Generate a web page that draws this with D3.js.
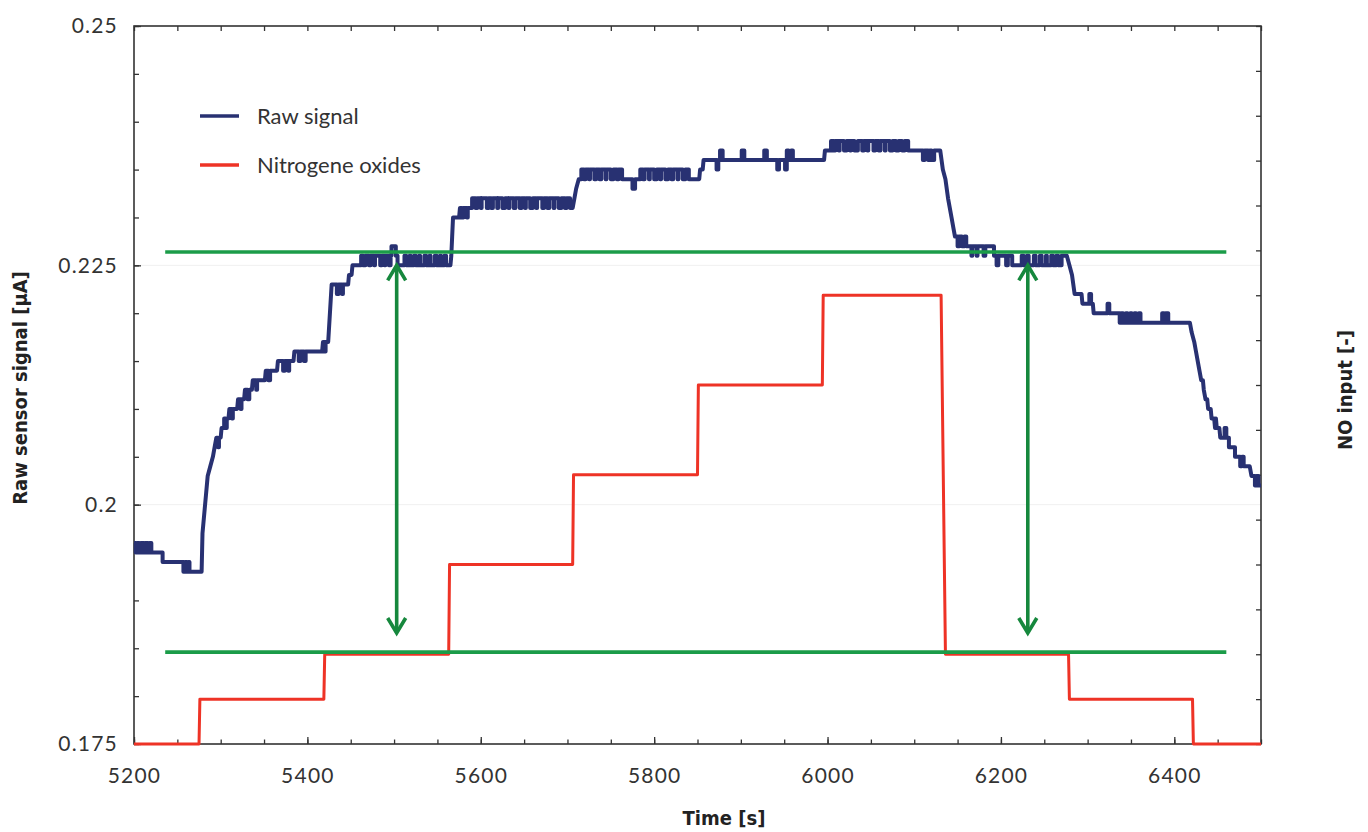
<!DOCTYPE html>
<html>
    <head>
        <meta charset="utf-8">
        <title>Raw sensor signal and NO input</title>
        <style>
            body {
                margin: 0;
                background: #fff;
            }
            text {
                font-family: 'Lato', sans-serif;
                fill: #333;
            }
            .tick text {
                font-size: 21px;
                letter-spacing: 1.2px;
            }
            .legend text {
                font-size: 22px;
            }
            .title {
                font-family: 'Liberation Sans Narrow', 'DejaVu Sans Condensed', sans-serif;
                font-stretch: condensed;
                font-weight: bold;
                font-size: 20px;
                fill: #222;
            }
            .tick line {
                stroke: #333;
                stroke-width: 1.3;
            }
        </style>
        <script src="https://d3js.org/d3.v7.min.js"></script>
    </head>
    <body>
        <div id="chart"></div>
        <script>
            // axis ticks
            var timeTicks = [5200, 5400, 5600, 5800, 6000, 6200, 6400];
            var signalTicks = [0.175, 0.2, 0.225, 0.25];

            // raw sensor signal [time s, current µA]
            var rawSignal = [
                [5200,0.196],[5202,0.196],[5202,0.195],[5204,0.195],[5204,0.196],[5206,0.196],[5206,0.195],[5208,0.195],
                [5208,0.196],[5211,0.196],[5211,0.195],[5213,0.195],[5213,0.196],[5216,0.196],[5216,0.195],[5218,0.195],
                [5218,0.196],[5220,0.196],[5220,0.195],[5233,0.195],[5233,0.194],[5257,0.194],[5257,0.193],[5259,0.193],
                [5259,0.194],[5261,0.194],[5261,0.193],[5263,0.193],[5263,0.194],[5264,0.194],[5264,0.193],[5278,0.193],
                [5279,0.197],[5283,0.201],[5285,0.203],[5288,0.204],[5291,0.205],[5293,0.206],[5295,0.207],[5297,0.207],
                [5297,0.206],[5298,0.206],[5298,0.207],[5300,0.207],[5301,0.208],[5304,0.208],[5304,0.209],[5306,0.209],
                [5306,0.208],[5307,0.208],[5307,0.209],[5309,0.209],[5310,0.210],[5313,0.210],[5313,0.209],[5314,0.209],
                [5314,0.210],[5319,0.210],[5320,0.211],[5323,0.211],[5323,0.210],[5324,0.210],[5324,0.211],[5327,0.211],
                [5328,0.212],[5331,0.212],[5331,0.211],[5333,0.211],[5333,0.212],[5336,0.212],[5337,0.213],[5341,0.213],
                [5341,0.212],[5342,0.212],[5342,0.213],[5351,0.213],[5352,0.214],[5355,0.214],[5355,0.213],[5357,0.213],
                [5357,0.214],[5365,0.214],[5366,0.215],[5372,0.215],[5372,0.214],[5374,0.214],[5374,0.215],[5378,0.215],
                [5378,0.214],[5379,0.214],[5379,0.215],[5384,0.215],[5385,0.216],[5390,0.216],[5390,0.215],[5392,0.215],
                [5392,0.216],[5396,0.216],[5396,0.215],[5398,0.215],[5398,0.216],[5417,0.216],[5418,0.217],[5420,0.217],
                [5420,0.216],[5421,0.216],[5421,0.217],[5424,0.217],[5426,0.220],[5428,0.223],[5434,0.223],[5434,0.222],
                [5436,0.222],[5436,0.223],[5440,0.223],[5440,0.222],[5441,0.222],[5441,0.223],[5447,0.223],[5448,0.224],
                [5451,0.224],[5452,0.225],[5462,0.225],[5462,0.226],[5464,0.226],[5464,0.225],[5467,0.225],[5467,0.226],
                [5471,0.226],[5471,0.225],[5473,0.225],[5473,0.226],[5477,0.226],[5477,0.225],[5478,0.225],[5478,0.226],
                [5484,0.226],[5484,0.225],[5486,0.225],[5486,0.226],[5489,0.226],[5489,0.225],[5490,0.225],[5490,0.226],
                [5494,0.226],[5494,0.225],[5496,0.225],[5496,0.226],[5497,0.226],[5497,0.227],[5502,0.227],[5502,0.226],
                [5504,0.226],[5504,0.225],[5512,0.225],[5512,0.226],[5514,0.226],[5514,0.225],[5518,0.225],[5518,0.226],
                [5519,0.226],[5519,0.225],[5523,0.225],[5523,0.226],[5525,0.226],[5525,0.225],[5529,0.225],[5529,0.226],
                [5530,0.226],[5530,0.225],[5535,0.225],[5535,0.226],[5537,0.226],[5537,0.225],[5541,0.225],[5541,0.226],
                [5542,0.226],[5542,0.225],[5547,0.225],[5547,0.226],[5549,0.226],[5549,0.225],[5553,0.225],[5553,0.226],
                [5554,0.226],[5554,0.225],[5558,0.225],[5558,0.226],[5560,0.226],[5560,0.225],[5565,0.225],
                [5566,0.226],[5567,0.228],[5568,0.230],[5575,0.230],[5576,0.231],[5578,0.231],[5578,0.230],[5580,0.230],
                [5580,0.231],[5584,0.231],[5584,0.230],[5585,0.230],[5585,0.231],[5590,0.231],[5590,0.232],[5594,0.232],
                [5594,0.231],[5596,0.231],[5596,0.232],[5600,0.232],[5600,0.231],[5601,0.231],[5601,0.232],[5607,0.232],
                [5607,0.231],[5609,0.231],[5609,0.232],[5612,0.232],[5612,0.231],[5614,0.231],[5614,0.232],[5619,0.232],
                [5619,0.231],[5620,0.231],[5620,0.232],[5625,0.232],[5625,0.231],[5628,0.231],[5628,0.232],[5632,0.232],
                [5632,0.231],[5633,0.231],[5633,0.232],[5638,0.232],[5638,0.231],[5640,0.231],[5640,0.232],[5645,0.232],
                [5645,0.231],[5647,0.231],[5647,0.232],[5651,0.232],[5651,0.231],[5652,0.231],[5652,0.232],[5657,0.232],
                [5657,0.231],[5660,0.231],[5660,0.232],[5664,0.232],[5664,0.231],[5665,0.231],[5665,0.232],[5671,0.232],
                [5671,0.231],[5673,0.231],[5673,0.232],[5677,0.232],[5677,0.231],[5679,0.231],[5679,0.232],[5684,0.232],
                [5684,0.231],[5685,0.231],[5685,0.232],[5690,0.232],[5690,0.231],[5693,0.231],[5693,0.232],[5697,0.232],
                [5697,0.231],[5699,0.231],[5699,0.232],[5703,0.232],[5703,0.231],[5706,0.231],
                [5708,0.232],[5710,0.233],[5713,0.234],[5716,0.234],[5716,0.235],[5719,0.235],[5719,0.234],[5721,0.234],
                [5721,0.235],[5725,0.235],[5725,0.234],[5726,0.234],[5726,0.235],[5731,0.235],[5731,0.234],[5733,0.234],
                [5733,0.235],[5737,0.235],[5737,0.234],[5739,0.234],[5739,0.235],[5744,0.235],[5744,0.234],[5745,0.234],
                [5745,0.235],[5750,0.235],[5750,0.234],[5753,0.234],[5753,0.235],[5757,0.235],[5757,0.234],[5759,0.234],
                [5759,0.235],[5763,0.235],[5763,0.234],[5775,0.234],[5775,0.233],[5778,0.233],[5778,0.234],[5784,0.234],
                [5784,0.235],[5787,0.235],[5787,0.234],[5789,0.234],[5789,0.235],[5794,0.235],[5794,0.234],[5795,0.234],
                [5795,0.235],[5800,0.235],[5800,0.234],[5803,0.234],[5803,0.235],[5807,0.235],[5807,0.234],[5808,0.234],
                [5808,0.235],[5813,0.235],[5813,0.234],[5816,0.234],[5816,0.235],[5820,0.235],[5820,0.234],[5822,0.234],
                [5822,0.235],[5827,0.235],[5827,0.234],[5828,0.234],[5828,0.235],[5833,0.235],[5833,0.234],[5836,0.234],
                [5836,0.235],[5840,0.235],[5840,0.234],[5852,0.234],[5853,0.235],[5856,0.235],[5857,0.236],[5872,0.236],
                [5872,0.235],[5874,0.235],[5874,0.236],[5876,0.236],[5876,0.237],[5879,0.237],[5879,0.236],[5901,0.236],
                [5901,0.237],[5904,0.237],[5904,0.236],[5927,0.236],[5927,0.237],[5930,0.237],[5930,0.236],[5942,0.236],
                [5942,0.235],[5944,0.235],[5944,0.236],[5951,0.236],[5951,0.235],[5953,0.235],[5953,0.237],[5955,0.237],
                [5955,0.236],[5958,0.236],[5958,0.237],[5960,0.237],[5960,0.236],[5996,0.236],[5997,0.237],[6004,0.237],
                [6004,0.238],[6007,0.238],[6007,0.237],[6009,0.237],[6009,0.238],[6013,0.238],[6013,0.237],[6014,0.237],
                [6014,0.238],[6019,0.238],[6019,0.237],[6022,0.237],[6022,0.238],[6026,0.238],[6026,0.237],[6027,0.237],
                [6027,0.238],[6031,0.238],[6031,0.237],[6035,0.237],[6035,0.238],[6040,0.238],[6040,0.237],[6042,0.237],
                [6042,0.238],[6046,0.238],[6046,0.237],[6047,0.237],[6047,0.238],[6053,0.238],[6053,0.237],[6055,0.237],
                [6055,0.238],[6059,0.238],[6059,0.237],[6061,0.237],[6061,0.238],[6066,0.238],[6066,0.237],[6067,0.237],
                [6067,0.238],[6072,0.238],[6072,0.237],[6075,0.237],[6075,0.238],[6079,0.238],[6079,0.237],[6082,0.237],
                [6082,0.238],[6086,0.238],[6086,0.237],[6089,0.237],[6089,0.238],[6093,0.238],[6093,0.237],[6110,0.237],
                [6110,0.236],[6112,0.236],[6112,0.237],[6116,0.237],[6116,0.236],[6118,0.236],[6118,0.237],[6120,0.237],
                [6120,0.236],[6123,0.236],[6123,0.237],[6130,0.237],
                [6133,0.235],[6136,0.234],[6139,0.232],[6141,0.231],[6143,0.230],[6145,0.229],[6147,0.228],[6150,0.228],
                [6150,0.227],[6152,0.227],[6152,0.228],[6155,0.228],[6155,0.227],[6158,0.227],[6158,0.228],[6160,0.228],
                [6160,0.227],[6166,0.227],[6166,0.226],[6167,0.226],[6167,0.227],[6172,0.227],[6172,0.226],[6173,0.226],
                [6173,0.227],[6180,0.227],[6180,0.226],[6182,0.226],[6182,0.227],[6192,0.227],[6192,0.226],[6195,0.226],
                [6195,0.225],[6197,0.225],[6197,0.226],[6206,0.226],[6206,0.225],[6208,0.225],[6208,0.226],[6213,0.226],
                [6213,0.225],[6224,0.225],[6224,0.226],[6226,0.226],[6226,0.225],[6230,0.225],[6230,0.226],[6232,0.226],
                [6232,0.225],[6238,0.225],[6238,0.226],[6240,0.226],[6240,0.225],[6245,0.225],[6245,0.226],[6247,0.226],
                [6247,0.225],[6252,0.225],[6252,0.226],[6253,0.226],[6253,0.225],[6258,0.225],[6258,0.226],[6260,0.226],
                [6260,0.225],[6264,0.225],[6264,0.226],[6266,0.226],[6266,0.225],[6270,0.225],[6270,0.226],[6276,0.226],
                [6279,0.225],[6282,0.224],[6285,0.222],[6293,0.222],[6294,0.221],[6302,0.221],[6302,0.222],[6304,0.222],
                [6304,0.221],[6306,0.221],[6307,0.220],[6323,0.220],[6323,0.221],[6325,0.221],[6325,0.220],[6337,0.220],
                [6337,0.219],[6339,0.219],[6339,0.220],[6341,0.220],[6341,0.219],[6344,0.219],[6344,0.220],[6346,0.220],
                [6346,0.219],[6349,0.219],[6349,0.220],[6351,0.220],[6351,0.219],[6354,0.219],[6354,0.220],[6356,0.220],
                [6356,0.219],[6359,0.219],[6359,0.220],[6361,0.220],[6361,0.219],[6386,0.219],[6386,0.220],[6388,0.220],
                [6388,0.219],[6390,0.219],[6390,0.220],[6393,0.220],[6393,0.219],[6418,0.219],
                [6420,0.218],[6423,0.217],[6425,0.216],[6427,0.215],[6429,0.214],[6431,0.213],[6433,0.213],[6434,0.212],
                [6436,0.211],[6438,0.211],[6439,0.210],[6442,0.210],[6443,0.209],[6446,0.209],[6447,0.208],[6448,0.209],
                [6449,0.208],[6452,0.208],[6453,0.207],[6458,0.207],[6458,0.208],[6460,0.208],[6460,0.207],[6463,0.207],
                [6463,0.206],[6470,0.206],[6470,0.205],[6476,0.205],[6476,0.204],[6478,0.204],[6478,0.205],[6480,0.205],
                [6480,0.204],[6487,0.204],[6489,0.203],[6493,0.203],[6493,0.202],[6495,0.202],[6495,0.203],[6497,0.203],
                [6497,0.202],[6500,0.202]
            ];

            // NO input (right axis, 0..16)
            var noTime  = [5200, 5275, 5276, 5419, 5420, 5563, 5564, 5706, 5707, 5850, 5851, 5994, 5995, 6131, 6136, 6278, 6279, 6421, 6422, 6500];
            var noLevel = [0, 0, 1, 1, 2, 2, 4, 4, 6, 6, 8, 8, 10, 10, 2, 2, 1, 1, 0, 0];

            // green marker lines and arrows
            var refTime = [5236, 6460];
            var refLevels = [0.2264, 0.1846];
            var arrowTimes = [5503, 6231];
            var arrowEnds = [0.225, 0.1866];

            var legendNames = ["Raw signal", "Nitrogene oxides"];
            var colors = {raw: "#283172", no: "#ee3326", green: "#1b9c49", arrow: "#16883d"};

            var W = 1368, H = 832;
            var padL = 134, padR = 1261, padT = 26, padB = 744;

            var svg = d3.select("#chart").append("svg")
                .attr("width", W)
                .attr("height", H);

            var x = d3.scaleLinear().domain([5200, 6500]).range([padL, padR]);
            var y = d3.scaleLinear().domain([0.175, 0.25]).range([padB, padT]);
            var yNO = d3.scaleLinear().domain([0, 16]).range([padB, padT]);

            // faint grid at labelled values
            svg.append("g").selectAll("line")
                .data([0.2, 0.225])
                .enter().append("line")
                .attr("x1", padL).attr("x2", padR)
                .attr("y1", d => y(d)).attr("y2", d => y(d))
                .attr("stroke", "#f0f0f0")
                .attr("stroke-width", 1);

            var minorTime = d3.range(5200, 6501, 50);
            var minorSig = d3.range(0, 16).map(i => 0.175 + i * 0.005);

            function clean(g) {
                g.select(".domain").remove();
            }

            // bottom axis
            svg.append("g").attr("transform", "translate(0," + padB + ")")
                .call(d3.axisBottom(x).tickValues(minorTime).tickSize(-4.5).tickFormat(""))
                .call(clean);
            svg.append("g").attr("transform", "translate(0," + padB + ")")
                .call(d3.axisBottom(x).tickValues(timeTicks).tickSize(-7).tickPadding(24).tickFormat(d3.format("d")))
                .call(clean);
            // top axis
            svg.append("g").attr("transform", "translate(0," + padT + ")")
                .call(d3.axisTop(x).tickValues(minorTime).tickSize(-5).tickFormat(""))
                .call(clean);
            // left axis
            svg.append("g").attr("transform", "translate(" + padL + ",0)")
                .call(d3.axisLeft(y).tickValues(minorSig).tickSize(-5).tickFormat(""))
                .call(clean);
            svg.append("g").attr("transform", "translate(" + padL + ",0)")
                .call(d3.axisLeft(y).tickValues(signalTicks).tickSize(-7).tickPadding(16).tickFormat(d => String(d)))
                .call(clean);
            // right axis (NO input, no labels)
            svg.append("g").attr("transform", "translate(" + padR + ",0)")
                .call(d3.axisRight(yNO).ticks(16).tickSize(-5).tickFormat(""))
                .call(clean);

            svg.selectAll(".tick text").attr("fill", "#333").style("font-family", "Lato, sans-serif");

            // frame
            svg.append("rect")
                .attr("x", padL).attr("y", padT)
                .attr("width", padR - padL).attr("height", padB - padT)
                .attr("fill", "none")
                .attr("stroke", "#333")
                .attr("stroke-width", 1.6);

            // raw signal
            var rawLine = d3.line().x(d => x(d[0])).y(d => y(d[1]));
            svg.append("path")
                .datum(rawSignal)
                .attr("d", rawLine)
                .attr("fill", "none")
                .attr("stroke", colors.raw)
                .attr("stroke-width", 4)
                .attr("stroke-linejoin", "round");

            // NO input
            var noData = noTime.map((t, i) => [t, noLevel[i]]);
            var noLine = d3.line().x(d => x(d[0])).y(d => yNO(d[1]));
            svg.append("path")
                .datum(noData)
                .attr("d", noLine)
                .attr("fill", "none")
                .attr("stroke", colors.no)
                .attr("stroke-width", 3)
                .attr("stroke-linejoin", "round");

            // green reference lines
            svg.append("g").selectAll("line")
                .data(refLevels)
                .enter().append("line")
                .attr("x1", x(refTime[0])).attr("x2", x(refTime[1]))
                .attr("y1", d => y(d)).attr("y2", d => y(d))
                .attr("stroke", colors.green)
                .attr("stroke-width", 3.6);

            // double arrows
            var arrows = svg.append("g")
                .attr("stroke", colors.arrow)
                .attr("stroke-width", 3.6)
                .attr("fill", "none");
            arrowTimes.forEach(function(t) {
                var ax = x(t), y1 = y(arrowEnds[0]), y2 = y(arrowEnds[1]);
                arrows.append("line")
                    .attr("x1", ax).attr("x2", ax)
                    .attr("y1", y1 + 1).attr("y2", y2 - 1);
                arrows.append("polyline")
                    .attr("points", [[ax - 9, y1 + 15], [ax, y1], [ax + 9, y1 + 15]].join(" "));
                arrows.append("polyline")
                    .attr("points", [[ax - 9, y2 - 15], [ax, y2], [ax + 9, y2 - 15]].join(" "));
            });

            // legend
            var legend = svg.append("g").attr("class", "legend");
            [colors.raw, colors.no].forEach(function(c, i) {
                var ly = 116 + i * 49;
                legend.append("line")
                    .attr("x1", 200).attr("x2", 239)
                    .attr("y1", ly).attr("y2", ly)
                    .attr("stroke", c)
                    .attr("stroke-width", 3.6);
                legend.append("text")
                    .attr("x", 257).attr("y", ly + 8)
                    .text(legendNames[i]);
            });

            // axis titles
            svg.append("text")
                .attr("class", "title")
                .attr("text-anchor", "middle")
                .attr("transform", "translate(27,388) rotate(-90)")
                .text("Raw sensor signal [µA]");
            svg.append("text")
                .attr("class", "title")
                .attr("text-anchor", "middle")
                .attr("x", 724).attr("y", 825)
                .text("Time [s]");
            svg.append("text")
                .attr("class", "title")
                .attr("text-anchor", "middle")
                .attr("transform", "translate(1352,390) rotate(-90)")
                .text("NO input [-]");
        </script>
    </body>
</html>
